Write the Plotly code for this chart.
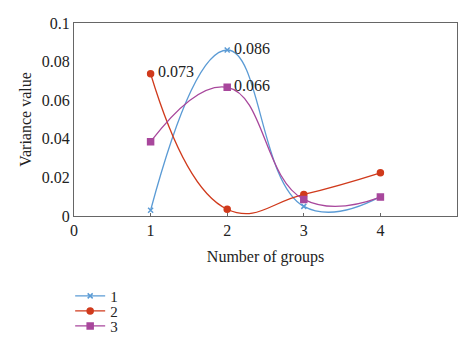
import plotly.graph_objects as go

groups = [1, 2, 3, 4]
series1 = [0.003, 0.086, 0.005, 0.010]
series2 = [0.0737, 0.0035, 0.0112, 0.0224]
series3 = [0.0385, 0.0667, 0.0086, 0.0098]
names = ["1", "2", "3"]
labels = [("0.086", 2, 0.086), ("0.073", 1, 0.0737), ("0.066", 2, 0.0667)]
x_ticks = [0, 1, 2, 3, 4]
y_ticks = [0, 0.02, 0.04, 0.06, 0.08, 0.1]
y_ticklabels = ["0", "0.02", "0.04", "0.06", "0.08", "0.1"]

FONT = "Liberation Serif"
colors = ["#5b9bd5", "#d03a1c", "#a8479c"]
symbols = ["x-thin-open", "circle", "square"]
legend_ids = ["legend", "legend2", "legend3"]
legend_y = [-0.415, -0.493, -0.571]

fig = go.Figure()
for name, ys, c, s, lg in zip(names, [series1, series2, series3], colors, symbols, legend_ids):
    fig.add_trace(go.Scatter(
        x=groups, y=ys, name=name, mode="lines+markers", legend=lg,
        line=dict(color=c, width=1.3, shape="spline", smoothing=1.3),
        marker=dict(color=c, symbol=s, size=6 if s != "x-thin-open" else 5,
                    line=dict(color=c, width=1.5)),
        cliponaxis=False,
    ))

for txt, x, y in labels:
    fig.add_annotation(x=x, y=y, text=txt, showarrow=False, xanchor="left",
                       yanchor="middle", xshift=5, yshift=2,
                       font=dict(family=FONT, size=16, color="#222"))

leg_common = dict(xanchor="left", yanchor="middle", orientation="v",
                  font=dict(family=FONT, size=15), bgcolor="rgba(0,0,0,0)")
fig.update_layout(
    width=466, height=353,
    margin=dict(l=66, r=17, t=15, b=145, autoexpand=False),
    plot_bgcolor="white", paper_bgcolor="white",
    font=dict(family=FONT, size=15, color="#222"),
    showlegend=True,
    legend=dict(x=-0.01, y=legend_y[0], **leg_common),
    legend2=dict(x=-0.01, y=legend_y[1], **leg_common),
    legend3=dict(x=-0.01, y=legend_y[2], **leg_common),
)
fig.update_xaxes(range=[0, 5], tickvals=x_ticks, ticktext=[str(v) for v in x_ticks],
                 showgrid=False, zeroline=False, showline=True, linecolor="#666",
                 linewidth=1, mirror=True, ticks="inside", ticklen=3, tickcolor="#666",
                 automargin=False,
                 title=dict(text="Number of groups", font=dict(family=FONT, size=16), standoff=12),
                 tickfont=dict(family=FONT, size=16))
fig.update_yaxes(range=[0, 0.1], tickvals=y_ticks, ticktext=y_ticklabels,
                 showgrid=False, zeroline=False, showline=True, linecolor="#666",
                 linewidth=1, mirror=True, ticks="", automargin=False,
                 title=dict(text="Variance value", font=dict(family=FONT, size=16), standoff=6),
                 tickfont=dict(family=FONT, size=16))

fig.write_html("out.html")
